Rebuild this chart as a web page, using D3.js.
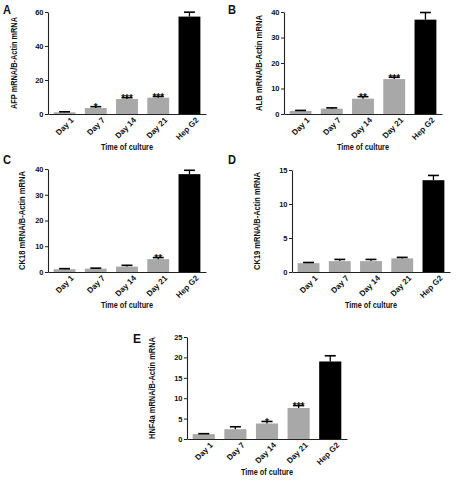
<!DOCTYPE html>
<html><head><meta charset="utf-8">
<script src="https://cdn.jsdelivr.net/npm/d3@7"></script>
<style>
body{margin:0;background:#fff;}
svg{display:block;}
text{font-family:"Liberation Sans",Arial,sans-serif;font-weight:bold;fill:#111;}
</style></head>
<body>
<svg id="chart" width="474" height="483"></svg>
<script>
const categories = ["Day 1", "Day 7", "Day 14", "Day 21", "Hep G2"];

const afpMean = [1.0, 3.5, 8.8, 9.6, 57.3];
const afpErr  = [0.3, 0.8, 0.8, 0.7, 2.6];
const afpSig  = ["", "*", "***", "***", ""];
const afpTicks = [0, 20, 40, 60];

const albMean = [1.2, 2.1, 6.0, 13.7, 37.0];
const albErr  = [0.2, 0.3, 0.8, 0.7, 2.8];
const albSig  = ["", "", "**", "***", ""];
const albTicks = [0, 10, 20, 30, 40];

const ck18Mean = [1.1, 1.3, 2.1, 5.0, 38.0];
const ck18Err  = [0.2, 0.2, 0.5, 0.6, 1.5];
const ck18Sig  = ["", "", "", "**", ""];
const ck18Ticks = [0, 10, 20, 30, 40];

const ck19Mean = [1.3, 1.6, 1.6, 2.0, 13.5];
const ck19Err  = [0.1, 0.25, 0.25, 0.15, 0.7];
const ck19Sig  = ["", "", "", "", ""];
const ck19Ticks = [0, 5, 10, 15];

const hnfMean = [1.2, 2.4, 3.8, 7.6, 19.0];
const hnfErr  = [0.1, 0.6, 0.5, 0.6, 1.4];
const hnfSig  = ["", "", "*", "***", ""];
const hnfTicks = [0, 5, 10, 15, 20, 25];

const panels = [
  {letter:"A", title:"AFP mRNA/B-Actin mRNA", mean:afpMean, err:afpErr, sig:afpSig, ticks:afpTicks,
   x0:48, x1:206, top:12, bottom:114, titleOff:35, titleLen:92, lx:3, ly:14},
  {letter:"B", title:"ALB mRNA/B-Actin mRNA", mean:albMean, err:albErr, sig:albSig, ticks:albTicks,
   x0:284, x1:442, top:12, bottom:114, titleOff:26, titleLen:96, lx:228, ly:14},
  {letter:"C", title:"CK18 mRNA/B-Actin mRNA", mean:ck18Mean, err:ck18Err, sig:ck18Sig, ticks:ck18Ticks,
   x0:48, x1:206, top:169, bottom:272, titleOff:27, titleLen:99, lx:3, ly:164},
  {letter:"D", title:"CK19 mRNA/B-Actin mRNA", mean:ck19Mean, err:ck19Err, sig:ck19Sig, ticks:ck19Ticks,
   x0:292, x1:450, top:170, bottom:272, titleOff:36, titleLen:98, lx:228, ly:164},
  {letter:"E", title:"HNF4a mRNA/B-Actin mRNA", mean:hnfMean, err:hnfErr, sig:hnfSig, ticks:hnfTicks,
   x0:187, x1:347, top:337, bottom:439, titleOff:36, titleLen:102, lx:133, ly:343}
];

const svg = d3.select("#chart");
const GREY = "#a8a8a8";

function squeeze(sel, base, target) {
  const n = sel.node().getComputedTextLength();
  const s = n > 0 ? target / n : 1;
  sel.attr("transform", `${base} scale(${s},1)`);
}

panels.forEach(p => {
  const g = svg.append("g");
  const x = d3.scaleBand().domain(categories).range([p.x0, p.x1]).paddingInner(0.3).paddingOuter(0.18);
  const yMax = p.ticks[p.ticks.length - 1];
  const y = d3.scaleLinear().domain([0, yMax]).range([p.bottom, p.top]);
  const rows = categories.map((c, i) => ({c, m:p.mean[i], e:p.err[i], s:p.sig[i], i}));

  g.selectAll("rect.bar").data(rows).join("rect")
    .attr("x", d => x(d.c)).attr("width", x.bandwidth())
    .attr("y", d => y(d.m)).attr("height", d => y(0) - y(d.m))
    .attr("fill", d => d.c === "Hep G2" ? "#000" : GREY);

  const cap = x.bandwidth() * 0.5;
  g.selectAll("line.ev").data(rows).join("line")
    .attr("x1", d => x(d.c) + x.bandwidth()/2).attr("x2", d => x(d.c) + x.bandwidth()/2)
    .attr("y1", d => y(d.m)).attr("y2", d => y(d.m + d.e))
    .attr("stroke", "#000").attr("stroke-width", 1.3);
  g.selectAll("line.ec").data(rows).join("line")
    .attr("x1", d => x(d.c) + x.bandwidth()/2 - cap/2).attr("x2", d => x(d.c) + x.bandwidth()/2 + cap/2)
    .attr("y1", d => y(d.m + d.e)).attr("y2", d => y(d.m + d.e))
    .attr("stroke", "#000").attr("stroke-width", 1.6);

  g.selectAll("text.sig").data(rows.filter(d => d.s)).join("text")
    .attr("x", d => x(d.c) + x.bandwidth()/2).attr("y", d => y(d.m + d.e) + 4.5)
    .attr("text-anchor", "middle")
    .style("font-size", "10px").text(d => d.s);

  const ya = g.append("g").attr("transform", `translate(${p.x0},0)`)
    .call(d3.axisLeft(y).tickValues(p.ticks).tickSize(3).tickPadding(1.5).tickSizeOuter(0));
  ya.select(".domain").attr("stroke", "#222").attr("stroke-width", 1.1);
  ya.selectAll(".tick line").attr("stroke", "#222");
  ya.selectAll(".tick text").style("font-family", "Liberation Sans, Arial, sans-serif")
    .style("font-size", "7.5px").style("font-weight", "bold").attr("fill", "#111");

  const xa = g.append("g").attr("transform", `translate(0,${p.bottom})`)
    .call(d3.axisBottom(x).tickSize(0).tickSizeOuter(0).tickPadding(4));
  xa.select(".domain").attr("stroke", "#222").attr("stroke-width", 1.1);
  xa.selectAll(".tick text").style("font-family", "Liberation Sans, Arial, sans-serif")
    .style("font-size", "8px").style("font-weight", "bold").attr("fill", "#111")
    .attr("text-anchor", "end").attr("dy", "0.5em")
    .attr("transform", "translate(4,1) rotate(-45)");

  const xt = g.append("text").attr("text-anchor", "middle").style("font-size", "9.5px")
    .text("Time of culture");
  squeeze(xt, `translate(${(p.x0 + p.x1)/2},${p.bottom + 36})`, 52);

  const yt = g.append("text").attr("text-anchor", "middle").style("font-size", "9.5px").text(p.title);
  squeeze(yt, `translate(${p.x0 - p.titleOff + 3.5},${(p.top + p.bottom)/2}) rotate(-90)`, p.titleLen);

  const lt = g.append("text").style("font-size", "13px").text(p.letter);
  squeeze(lt, `translate(${p.lx},${p.ly})`, 8);
});
</script>
</body></html>
